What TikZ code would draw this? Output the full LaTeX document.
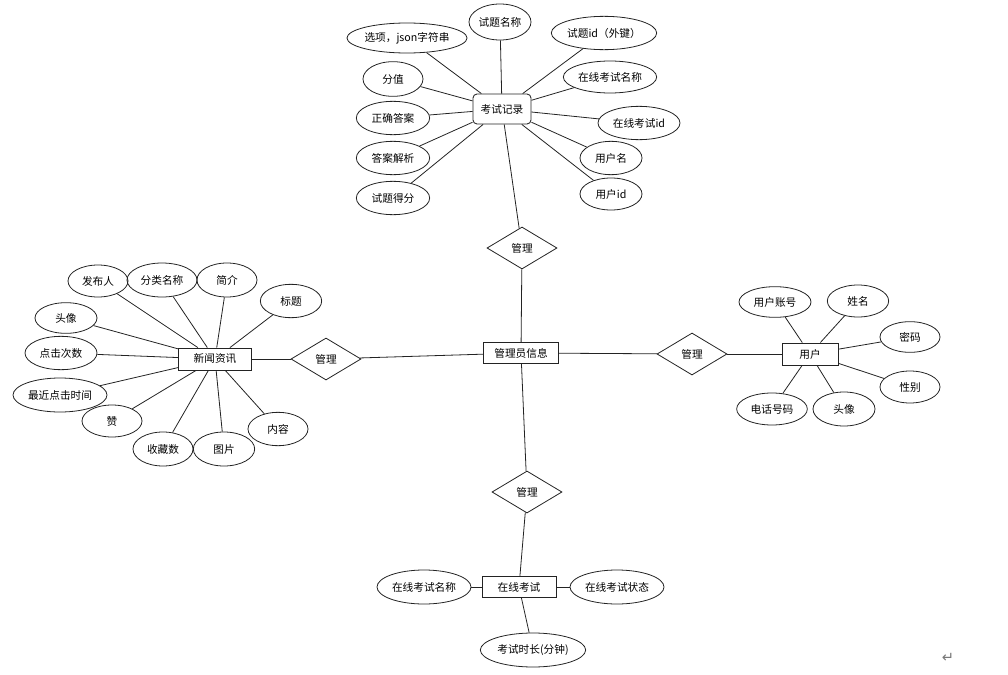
\documentclass[tikz,border=0pt]{standalone}
\usepackage{fontspec}
\usepackage{tikz}
\usetikzlibrary{shapes.geometric}
\setmainfont{Noto Sans CJK SC}
\newfontfamily\symfont{DejaVu Sans}
\definecolor{edge}{RGB}{35,35,35}
\definecolor{mark}{RGB}{120,120,120}

\begin{document}
\begin{tikzpicture}[x=0.75pt,y=-0.75pt,
    font=\fontsize{8}{9}\selectfont,
    attr/.style={ellipse,draw=edge,line width=0.6pt,inner sep=0pt,minimum width=45pt,minimum height=25pt},
    ent/.style={rectangle,draw=edge,line width=0.65pt,inner sep=0pt,minimum height=16pt},
    rel/.style={diamond,draw=edge,line width=0.6pt,inner sep=0pt,minimum width=52.5pt,minimum height=31.5pt},
    link/.style={draw=edge,line width=0.6pt}]
  \useasboundingbox (0,0) rectangle (1008,675);

  % entities
  \node[ent,rounded corners=3pt,minimum width=43.5pt,minimum height=22.5pt] (rec) at (502,109) {考试记录};
  \node[ent,minimum width=56pt] (admin) at (521,353) {管理员信息};
  \node[ent,minimum width=55pt,minimum height=16.5pt] (news) at (215,359) {新闻资讯};
  \node[ent,minimum width=42pt,minimum height=16.5pt] (user) at (810,354) {用户};
  \node[ent,minimum width=55.5pt] (exam) at (519,587) {在线考试};

  % relations
  \node[rel] (relT) at (522,248) {管理};
  \node[rel] (relL) at (326,359) {管理};
  \node[rel] (relR) at (692,354) {管理};
  \node[rel] (relB) at (527,492) {管理};

  % exam record
  \node[attr,minimum width=46.5pt,minimum height=27pt] (tmmc) at (500,22) {试题名称};
  \node[attr,minimum width=88.5pt,minimum height=22.5pt] (xx) at (407,38) {选项，json字符串};
  \node[attr,minimum width=79pt] (tmid) at (604,33) {试题id（外键）};
  \node[attr,minimum height=26pt] (fz) at (393,79) {分值};
  \node[attr,minimum width=55pt] (zqda) at (393,118) {正确答案};
  \node[attr,minimum width=55pt] (dajx) at (393,158) {答案解析};
  \node[attr,minimum width=55pt] (tmdf) at (393,198) {试题得分};
  \node[attr,minimum width=70pt,minimum height=24pt] (ksmc) at (610,77) {在线考试名称};
  \node[attr,minimum width=61.5pt] (ksid) at (639,123) {在线考试id};
  \node[attr,minimum width=46.5pt] (yhm) at (611,158) {用户名};
  \node[attr,minimum width=46.5pt,minimum height=24pt] (yhid) at (611,194) {用户id};

  % news
  \node[attr,minimum height=24pt] (fbr) at (98,281) {发布人};
  \node[attr,minimum width=52.5pt,minimum height=25.5pt] (flmc) at (162,280) {分类名称};
  \node[attr,minimum height=25.5pt] (jj) at (227,280) {简介};
  \node[attr,minimum width=46pt] (bt) at (291,301) {标题};
  \node[attr,minimum width=46.5pt,minimum height=23pt] (txN) at (66,318) {头像};
  \node[attr,minimum width=54pt] (djcs) at (61,353) {点击次数};
  \node[attr,minimum width=70.5pt,minimum height=25.5pt] (zjdj) at (60,395) {最近点击时间};
  \node[attr,minimum height=24pt] (zan) at (112,421) {赞};
  \node[attr,minimum height=25.5pt] (scs) at (163,449) {收藏数};
  \node[attr,minimum width=46pt,minimum height=25.5pt] (tp) at (224,449) {图片};
  \node[attr] (nr) at (278,429) {内容};

  % user
  \node[attr,minimum width=54pt,minimum height=23pt] (yhzh) at (775,302) {用户账号};
  \node[attr,minimum width=46pt,minimum height=24pt] (xm) at (858,301) {姓名};
  \node[attr,minimum height=23pt] (mm) at (910,337) {密码};
  \node[attr,minimum height=24pt] (xb) at (910,387) {性别};
  \node[attr,minimum width=53pt,minimum height=24pt] (dhhm) at (772,409) {电话号码};
  \node[attr,minimum width=46.5pt,minimum height=25.5pt] (txU) at (844,409) {头像};

  % online exam
  \node[attr,minimum width=70.5pt,minimum height=25.5pt] (zxmc) at (424,587) {在线考试名称};
  \node[attr,minimum width=70.5pt,minimum height=25.5pt] (zxzt) at (617,587) {在线考试状态};
  \node[attr,minimum width=79pt,minimum height=25.5pt] (kssc) at (533,650) {考试时长(分钟)};

  % links
  \foreach \a in {tmmc,xx,tmid,fz,zqda,dajx,tmdf,ksmc,ksid,yhm,yhid}
    \draw[link] (\a) -- (rec);
  \foreach \a in {fbr,flmc,jj,bt,txN,djcs,zjdj,zan,scs,tp,nr}
    \draw[link] (\a) -- (news);
  \foreach \a in {yhzh,xm,mm,xb,dhhm,txU}
    \draw[link] (\a) -- (user);
  \foreach \a in {zxmc,zxzt,kssc}
    \draw[link] (\a) -- (exam);

  \draw[link] (rec) -- (relT);
  \draw[link] (relT) -- (admin);
  \draw[link] (news) -- (relL);
  \draw[link] (relL) -- (admin);
  \draw[link] (admin) -- (relR);
  \draw[link] (relR) -- (user);
  \draw[link] (admin) -- (relB);
  \draw[link] (relB) -- (exam);

  \node[font=\symfont\fontsize{11}{12}\selectfont,text=mark] (ret) at (948,658) {↵};
\end{tikzpicture}
\end{document}
